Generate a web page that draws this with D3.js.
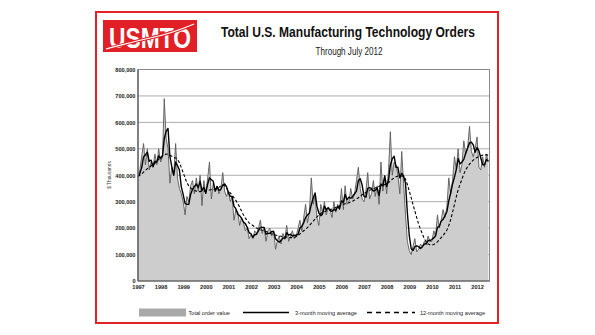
<!DOCTYPE html>
<html>
<head>
<meta charset="utf-8">
<script src="https://cdn.jsdelivr.net/npm/d3@7"></script>
<style>
  html, body { margin: 0; padding: 0; background: #fff; }
  svg { display: block; }
  text { font-family: "Liberation Sans Narrow", "Arial Narrow", "Liberation Sans", Arial, sans-serif; }
</style>
</head>
<body>
<svg id="chart" width="595" height="335"></svg>
<script>
// ---------- DATA (thousands of dollars, monthly Jan 1997 - Jul 2012) ----------
const startYear = 1997;
const yearLabels = ["1997","1998","1999","2000","2001","2002","2003","2004","2005","2006","2007","2008","2009","2010","2011","2012"];
const yTicks = [0, 100000, 200000, 300000, 400000, 500000, 600000, 700000, 800000];

const totalOrders = [
  395, 420, 470, 520, 440, 500, 420, 450, 430, 480, 440, 500,   // 1997
  450, 470, 690, 540, 500, 370, 430, 400, 520, 390, 350, 330,   // 1998
  300, 250, 320, 300, 360, 380, 330, 390, 340, 400, 285, 380,   // 1999
  330, 390, 450, 310, 370, 340, 360, 330, 350, 410, 340, 320,   // 2000
  340, 300, 320, 230, 270, 260, 210, 240, 220, 190, 200, 160,   // 2001
  175, 160, 190, 180, 200, 230, 180, 200, 150, 190, 200, 170,   // 2002
  190, 120, 150, 170, 140, 180, 160, 210, 150, 170, 190, 160,   // 2003
  170, 200, 230, 190, 240, 290, 220, 260, 390, 290, 320, 240,   // 2004
  210, 290, 260, 300, 250, 280, 270, 240, 300, 260, 290, 270,   // 2005
  350, 270, 360, 290, 300, 350, 310, 330, 380, 430, 350, 310,   // 2006
  300, 340, 410, 310, 330, 380, 320, 360, 290, 450, 340, 400,   // 2007
  330, 420, 565, 400, 450, 440, 400, 330, 490, 370, 250, 150,   // 2008
  115, 100, 130, 160, 110, 120, 140, 130, 150, 140, 170, 150,   // 2009
  150, 190, 170, 250, 200, 230, 270, 240, 280, 390, 330, 380,   // 2010
  470, 420, 500, 410, 440, 530, 480, 500, 585, 490, 470, 500,   // 2011
  545, 430, 420, 470, 430, 480, 450                              // 2012
];

const avg3 = [
  395, 408, 428, 470, 477, 487, 453, 457, 433, 453, 450, 473,
  463, 473, 537, 567, 577, 470, 433, 400, 450, 437, 420, 357,
  327, 293, 290, 290, 327, 347, 357, 367, 353, 377, 342, 355,
  332, 367, 390, 383, 377, 340, 357, 343, 347, 363, 367, 357,
  333, 320, 320, 283, 273, 253, 247, 237, 223, 217, 203, 183,
  178, 165, 175, 177, 190, 203, 203, 203, 177, 180, 180, 187,
  187, 160, 153, 147, 153, 163, 160, 183, 173, 177, 170, 173,
  173, 177, 200, 207, 220, 240, 250, 257, 290, 313, 333, 283,
  257, 247, 253, 283, 270, 277, 267, 263, 270, 267, 283, 273,
  303, 297, 327, 307, 317, 313, 320, 330, 340, 380, 387, 363,
  320, 317, 350, 353, 350, 340, 343, 353, 323, 367, 360, 397,
  357, 383, 438, 462, 472, 430, 430, 390, 407, 397, 370, 257,
  172, 122, 115, 130, 133, 130, 123, 130, 140, 140, 153, 153,
  157, 163, 170, 203, 207, 227, 233, 247, 263, 303, 333, 367,
  393, 423, 463, 443, 450, 460, 483, 503, 522, 525, 515, 487,
  505, 492, 465, 440, 440, 460, 453
];

const avg12 = [
  395, 400, 405, 412, 418, 425, 430, 436, 440, 445, 452, 460,
  468, 474, 478, 480, 479, 476, 472, 468, 465, 460, 448, 430,
  410, 390, 372, 360, 352, 346, 342, 340, 338, 338, 340, 340,
  340, 342, 344, 346, 346, 348, 350, 354, 360, 362, 360, 352,
  340, 333, 325, 315, 305, 292, 280, 265, 250, 238, 228, 220,
  214, 210, 205, 200, 197, 194, 192, 190, 187, 184, 181, 178,
  176, 174, 172, 170, 169, 168, 167, 166, 165, 164, 164, 165,
  168, 172, 178, 184, 190, 196, 202, 210, 218, 226, 234, 242,
  250, 255, 259, 262, 265, 268, 270, 272, 275, 278, 281, 284,
  287, 290, 292, 294, 296, 299, 302, 306, 310, 315, 320, 326,
  332, 336, 340, 343, 346, 349, 352, 355, 358, 360, 362, 365,
  368, 372, 378, 385, 390, 394, 397, 398, 397, 395, 385, 365,
  340, 315, 290, 265, 240, 215, 195, 178, 160, 148, 140, 137,
  136, 138, 142, 148, 156, 164, 172, 182, 193, 210, 232, 260,
  290, 320, 345, 365, 385, 405, 420, 432, 442, 450, 457, 463,
  467, 471, 474, 476, 477, 477, 476
];

const legendLabels = ["Total order value", "3-month moving average", "12-month moving average"];
const titleText = "Total U.S. Manufacturing Technology Orders";
const subtitleText = "Through July 2012";
const yAxisTitle = "$ Thousands";

// ---------- DRAW ----------
(function () {
const svg = d3.select("#chart");
const red = "#e32228";

// outer red frame
svg.append("rect").attr("x", 96).attr("y", 12).attr("width", 402).attr("height", 311)
  .attr("fill", "none").attr("stroke", red).attr("stroke-width", 2);

// logo
const logo = svg.append("g");
logo.append("rect").attr("x", 103).attr("y", 20).attr("width", 94).attr("height", 32).attr("fill", "#e01f26");
logo.append("text").attr("x", 150).attr("y", 47.5).attr("text-anchor", "middle")
  .attr("font-size", 30).attr("font-weight", "bold")
  .attr("fill", "#fff").attr("textLength", 82).attr("lengthAdjust", "spacingAndGlyphs")
  .text("USMTO");
logo.append("path").attr("d", "M106,49 C122,45 135,41 150,38 C165,35 180,30 194,24")
  .attr("fill", "none").attr("stroke", "#e01f26").attr("stroke-width", 3.2);
logo.append("path").attr("d", "M106,49 C122,45 135,41 150,38 C165,35 180,30 194,24")
  .attr("fill", "none").attr("stroke", "#fff").attr("stroke-width", 1.2);

// titles
svg.append("text").attr("x", 348).attr("y", 37).attr("text-anchor", "middle")
  .attr("font-size", 14.5).attr("font-weight", "bold").attr("fill", "#111")
  .attr("textLength", 254).attr("lengthAdjust", "spacingAndGlyphs").text(titleText);
svg.append("text").attr("x", 349).attr("y", 54.5).attr("text-anchor", "middle")
  .attr("font-size", 10).attr("fill", "#222")
  .attr("textLength", 67).attr("lengthAdjust", "spacingAndGlyphs").text(subtitleText);

// scales
const pl = 138, pr = 489.5, pt = 69.5, pb = 281;
const x = d3.scaleTime()
  .domain([new Date(1997, 0, 1), new Date(2012, 6, 20)])
  .range([pl, pr]);
const y = d3.scaleLinear().domain([0, 800000]).range([pb, pt]);
const dates = totalOrders.map((_, i) => new Date(startYear, i, 1));

// gridlines
svg.append("g").selectAll("line").data(yTicks.slice(1)).join("line")
  .attr("x1", pl).attr("x2", pr)
  .attr("y1", d => y(d)).attr("y2", d => y(d))
  .attr("stroke", "#acacac").attr("stroke-width", 1);

// area
const area = d3.area().x((d, i) => x(dates[i])).y0(y(0)).y1(d => y(d * 1000));
svg.append("path").datum(totalOrders).attr("d", area).attr("fill", "#cdcdcd");

// raw line
const line = d3.line().x((d, i) => x(dates[i])).y(d => y(d * 1000));
svg.append("path").datum(totalOrders).attr("d", line)
  .attr("fill", "none").attr("stroke", "#5a5a5a").attr("stroke-width", 0.9);

// 12 month
svg.append("path").datum(avg12).attr("d", line)
  .attr("fill", "none").attr("stroke", "#000").attr("stroke-width", 1.1)
  .attr("stroke-dasharray", "3,2");

// 3 month
svg.append("path").datum(avg3).attr("d", line)
  .attr("fill", "none").attr("stroke", "#000").attr("stroke-width", 1.4)
  .attr("stroke-linejoin", "round");

// plot frame
svg.append("rect").attr("x", pl).attr("y", pt).attr("width", pr - pl).attr("height", pb - pt)
  .attr("fill", "none").attr("stroke", "#8a8a8a").attr("stroke-width", 1);
svg.append("line").attr("x1", pl).attr("x2", pl).attr("y1", pt).attr("y2", pb)
  .attr("stroke", "#555").attr("stroke-width", 1.2);
svg.append("line").attr("x1", pl).attr("x2", pr).attr("y1", pb).attr("y2", pb)
  .attr("stroke", "#555").attr("stroke-width", 1.2);

// y axis
const yAxis = d3.axisLeft(y).tickValues(yTicks).tickSize(0).tickPadding(2.5)
  .tickFormat(d3.format(","));
const gy = svg.append("g").attr("transform", `translate(${pl},0)`).call(yAxis);
gy.select(".domain").remove();
gy.selectAll("text").attr("font-size", 5.6).attr("font-weight", "bold").attr("fill", "#222")
  .attr("font-family", "'Liberation Sans Narrow', 'Liberation Sans', Arial, sans-serif");

// x axis
const xAxis = d3.axisBottom(x)
  .tickValues(yearLabels.map(s => new Date(+s, 0, 1)))
  .tickSize(0).tickPadding(4).tickFormat(d3.timeFormat("%Y"));
const gx = svg.append("g").attr("transform", `translate(0,${pb})`).call(xAxis);
gx.select(".domain").remove();
gx.selectAll("text").attr("font-size", 5.6).attr("font-weight", "bold").attr("fill", "#222")
  .attr("font-family", "'Liberation Sans Narrow', 'Liberation Sans', Arial, sans-serif");

// y title
svg.append("text").attr("transform", "translate(111,175) rotate(-90)")
  .attr("text-anchor", "middle").attr("font-size", 4.8).attr("fill", "#333").text(yAxisTitle);

// legend
const ly = 312.5;
svg.append("rect").attr("x", 139).attr("y", 308.5).attr("width", 47).attr("height", 8).attr("fill", "#a9a9a9");
svg.append("text").attr("x", 188.5).attr("y", ly + 2).attr("font-size", 5.6).attr("fill", "#222").text(legendLabels[0]);
svg.append("line").attr("x1", 243).attr("x2", 289).attr("y1", ly).attr("y2", ly)
  .attr("stroke", "#000").attr("stroke-width", 1.4);
svg.append("text").attr("x", 295).attr("y", ly + 2).attr("font-size", 5.6).attr("fill", "#222").text(legendLabels[1]);
svg.append("line").attr("x1", 367).attr("x2", 415).attr("y1", ly).attr("y2", ly)
  .attr("stroke", "#000").attr("stroke-width", 1.4).attr("stroke-dasharray", "5,4");
svg.append("text").attr("x", 420).attr("y", ly + 2).attr("font-size", 5.6).attr("fill", "#222").text(legendLabels[2]);
})();
</script>
</body>
</html>
